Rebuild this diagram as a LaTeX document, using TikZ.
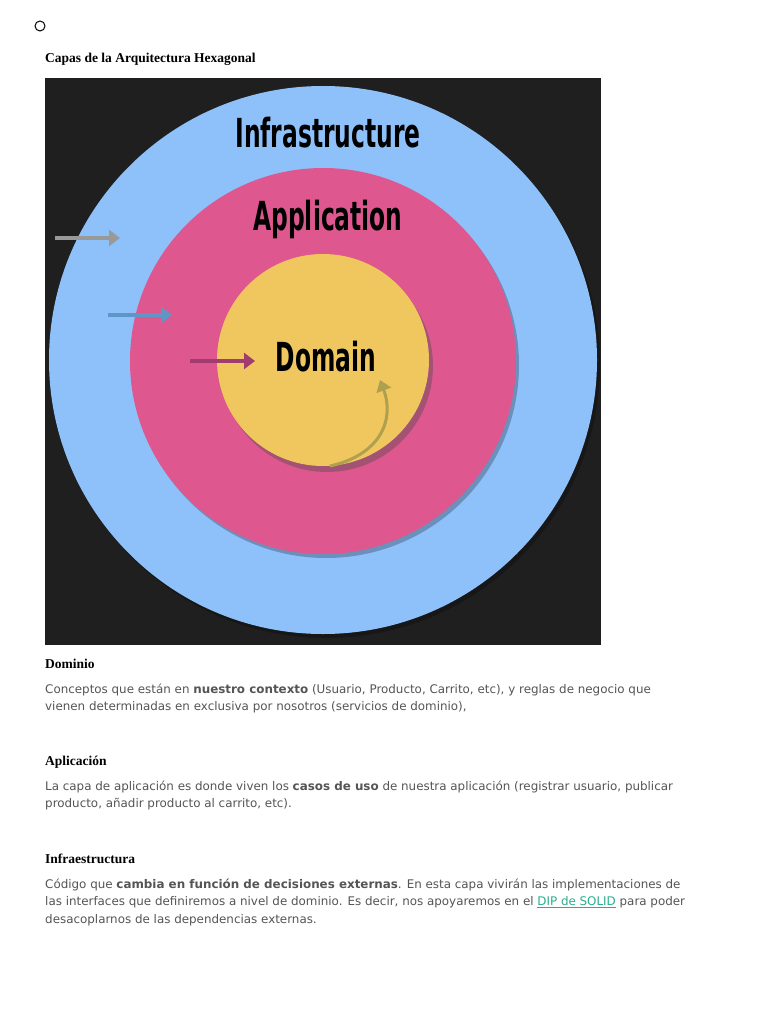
\documentclass[tikz,border=0pt]{standalone}
\usepackage{fontspec}
\setmainfont{DejaVu Sans}
\newfontfamily\headf{Liberation Serif}
\newfontfamily\condf{DejaVu Sans Condensed}
\usetikzlibrary{arrows.meta}
\definecolor{blueC}{HTML}{8EC1FA}
\definecolor{pinkC}{HTML}{DE578F}
\definecolor{yellC}{HTML}{EFC75E}
\definecolor{bodyC}{HTML}{555555}
\definecolor{linkC}{HTML}{2BAE8C}
\tikzset{
  head/.style={anchor=west,inner sep=0pt,font=\headf\bfseries\fontsize{13.5}{16}\selectfont},
  body/.style={anchor=north west,inner sep=0pt,text=bodyC,align=left,font=\fontsize{11.9}{17.2}\selectfont},
  ring/.style={font=\condf\bfseries\fontsize{40}{44}\selectfont,inner sep=0pt,xscale=0.65},
  arr/.style={line width=4pt,-{Triangle[length=11pt,width=16pt]}}
}
\begin{document}
\begin{tikzpicture}[x=1pt,y=-1pt]
\useasboundingbox (0,0) rectangle (768,1024);
\fill[white] (0,0) rectangle (768,1024);
\node[circle,draw,line width=1pt,minimum size=10pt,inner sep=0pt] (dot) at (40,26) {};
\node[head] (t) at (45,59) {Capas de la Arquitectura Hexagonal};
\fill[black!88] (45,78) rectangle (601,645);
\fill[black,opacity=0.25] (326,364) circle[radius=274];
\fill[blueC] (323,360) circle[radius=274];
\fill[black,opacity=0.25] (326,365) circle[radius=193];
\fill[pinkC] (323,361) circle[radius=193];
\fill[black!70,opacity=0.4] (327,366) circle[radius=106];
\fill[yellC] (323,360) circle[radius=106];
\node[ring] (inf) at (328,133) {Infrastructure};
\node[ring] (app) at (328,219) {Application};
\node[ring] (dom) at (326,357) {Domain};
\coordinate (a1s) at (55,238); \coordinate (a1e) at (120,238);
\coordinate (a2s) at (108,315); \coordinate (a2e) at (172,315);
\coordinate (a3s) at (190,361); \coordinate (a3e) at (255,361);
\draw[arr,draw=gray!80] (a1s) -- (a1e);
\draw[arr,draw={rgb,255:red,94;green,150;blue,200}] (a2s) -- (a2e);
\draw[arr,draw={rgb,255:red,160;green,60;blue,110}] (a3s) -- (a3e);
\coordinate (cs) at (330,466); \coordinate (ce) at (380,380);
\draw[line width=3pt,draw={rgb,255:red,175;green,160;blue,80},-{Triangle[length=11pt,width=15pt]}] (cs) .. controls (380,455) and (395,420) .. (ce);
\node[head] (h1) at (45,664) {Dominio};
\node[body] (b1) at (45,684) {Conceptos que están en \textbf{nuestro contexto} (Usuario, Producto, Carrito, etc), y reglas de negocio que\\vienen determinadas en exclusiva por nosotros (servicios de dominio),};
\node[head] (h2) at (45,762) {Aplicación};
\node[body] (b2) at (45,781) {La capa de aplicación es donde viven los \textbf{casos de uso} de nuestra aplicación (registrar usuario, publicar\\producto, añadir producto al carrito, etc).};
\node[head] (h3) at (45,859) {Infraestructura};
\node[body] (b3) at (45,879) {Código que \textbf{cambia en función de decisiones externas}. En esta capa vivirán las implementaciones de\\las interfaces que definiremos a nivel de dominio. Es decir, nos apoyaremos en el \textcolor{linkC}{\underline{DIP de SOLID}} para poder\\desacoplarnos de las dependencias externas.};
\end{tikzpicture}
\end{document}
